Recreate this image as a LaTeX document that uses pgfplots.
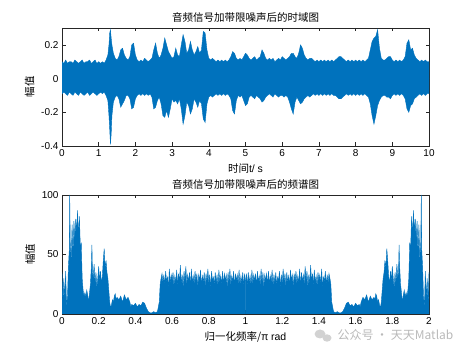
\documentclass[border=0pt]{standalone}
\usepackage{pgfplots}
\pgfplotsset{compat=1.18}
\usepackage{pgfplotstable}
\usepackage{fontspec}
\setmainfont{Liberation Sans}
\newfontfamily\cjk{Noto Sans CJK SC}
\definecolor{mblue}{RGB}{0,114,189}
\definecolor{axgray}{RGB}{38,38,38}

\pgfplotstableread{
t u l
0.00 0.10 -0.09
0.05 0.09 -0.08
0.10 0.11 -0.09
0.15 0.09 -0.10
0.20 0.10 -0.08
0.25 0.10 -0.09
0.30 0.09 -0.10
0.35 0.11 -0.08
0.40 0.10 -0.09
0.45 0.09 -0.10
0.50 0.10 -0.08
0.55 0.11 -0.09
0.60 0.09 -0.10
0.65 0.10 -0.09
0.70 0.10 -0.08
0.75 0.11 -0.10
0.80 0.09 -0.09
0.85 0.10 -0.08
0.90 0.11 -0.09
0.95 0.09 -0.10
1.00 0.10 -0.09
1.05 0.09 -0.08
1.10 0.10 -0.09
1.15 0.09 -0.08
1.20 0.11 -0.10
1.25 0.14 -0.13
1.28 0.20 -0.22
1.30 0.27 -0.30
1.32 0.29 -0.39
1.34 0.24 -0.33
1.36 0.20 -0.22
1.40 0.15 -0.14
1.45 0.12 -0.11
1.50 0.11 -0.10
1.55 0.13 -0.12
1.60 0.17 -0.17
1.65 0.18 -0.15
1.70 0.14 -0.13
1.75 0.12 -0.10
1.80 0.11 -0.10
1.85 0.13 -0.12
1.90 0.20 -0.18
1.95 0.21 -0.17
2.00 0.14 -0.12
2.05 0.11 -0.10
2.10 0.10 -0.09
2.15 0.11 -0.10
2.20 0.10 -0.09
2.25 0.12 -0.10
2.30 0.11 -0.09
2.35 0.10 -0.10
2.40 0.11 -0.09
2.45 0.12 -0.11
2.50 0.17 -0.18
2.55 0.21 -0.17
2.60 0.15 -0.13
2.65 0.12 -0.11
2.70 0.14 -0.15
2.75 0.18 -0.22
2.80 0.24 -0.23
2.85 0.20 -0.19
2.90 0.16 -0.23
2.95 0.14 -0.18
3.00 0.12 -0.12
3.05 0.13 -0.14
3.10 0.18 -0.13
3.15 0.14 -0.15
3.20 0.13 -0.12
3.25 0.20 -0.18
3.30 0.26 -0.27
3.35 0.22 -0.22
3.40 0.15 -0.14
3.45 0.17 -0.16
3.50 0.22 -0.21
3.55 0.17 -0.18
3.60 0.14 -0.12
3.65 0.16 -0.14
3.70 0.19 -0.17
3.75 0.15 -0.13
3.80 0.17 -0.15
3.85 0.28 -0.24
3.90 0.27 -0.26
3.95 0.17 -0.15
4.00 0.12 -0.11
4.05 0.11 -0.10
4.10 0.12 -0.11
4.15 0.11 -0.10
4.20 0.10 -0.09
4.25 0.11 -0.10
4.30 0.10 -0.09
4.35 0.11 -0.10
4.40 0.10 -0.09
4.45 0.11 -0.10
4.50 0.10 -0.09
4.55 0.11 -0.10
4.60 0.13 -0.12
4.65 0.16 -0.19
4.70 0.15 -0.21
4.75 0.12 -0.13
4.80 0.11 -0.10
4.85 0.12 -0.11
4.90 0.11 -0.10
4.95 0.13 -0.13
5.00 0.15 -0.16
5.05 0.14 -0.15
5.10 0.12 -0.11
5.15 0.11 -0.10
5.20 0.12 -0.11
5.25 0.13 -0.12
5.30 0.11 -0.10
5.35 0.12 -0.11
5.40 0.13 -0.12
5.45 0.17 -0.14
5.50 0.15 -0.13
5.55 0.12 -0.11
5.60 0.11 -0.10
5.65 0.12 -0.09
5.70 0.11 -0.10
5.75 0.12 -0.11
5.80 0.10 -0.09
5.85 0.11 -0.10
5.90 0.12 -0.11
5.95 0.11 -0.10
6.00 0.13 -0.10
6.05 0.12 -0.11
6.10 0.11 -0.10
6.15 0.12 -0.11
6.20 0.13 -0.14
6.25 0.15 -0.18
6.30 0.15 -0.21
6.35 0.13 -0.14
6.40 0.12 -0.11
6.45 0.15 -0.13
6.50 0.20 -0.15
6.55 0.18 -0.14
6.60 0.14 -0.12
6.65 0.12 -0.11
6.70 0.11 -0.10
6.75 0.12 -0.11
6.80 0.12 -0.10
6.85 0.11 -0.09
6.90 0.10 -0.10
6.95 0.11 -0.09
7.00 0.10 -0.10
7.05 0.11 -0.09
7.10 0.10 -0.10
7.15 0.11 -0.09
7.20 0.10 -0.10
7.25 0.11 -0.09
7.30 0.10 -0.10
7.35 0.11 -0.09
7.40 0.10 -0.10
7.45 0.11 -0.10
7.50 0.12 -0.11
7.55 0.13 -0.12
7.60 0.13 -0.12
7.65 0.12 -0.11
7.70 0.11 -0.10
7.75 0.10 -0.09
7.80 0.11 -0.10
7.85 0.10 -0.09
7.90 0.11 -0.10
7.95 0.10 -0.09
8.00 0.11 -0.10
8.05 0.10 -0.09
8.10 0.11 -0.10
8.15 0.10 -0.09
8.20 0.11 -0.10
8.25 0.10 -0.09
8.30 0.11 -0.10
8.35 0.12 -0.11
8.40 0.17 -0.15
8.45 0.22 -0.22
8.50 0.24 -0.27
8.55 0.25 -0.22
8.60 0.29 -0.16
8.65 0.18 -0.13
8.70 0.12 -0.11
8.75 0.11 -0.10
8.80 0.11 -0.10
8.85 0.12 -0.11
8.90 0.13 -0.11
8.95 0.13 -0.12
9.00 0.11 -0.10
9.05 0.10 -0.09
9.10 0.11 -0.10
9.15 0.10 -0.09
9.20 0.11 -0.10
9.25 0.10 -0.09
9.30 0.11 -0.10
9.35 0.13 -0.12
9.40 0.21 -0.18
9.45 0.23 -0.20
9.50 0.17 -0.16
9.55 0.18 -0.15
9.60 0.14 -0.12
9.65 0.12 -0.11
9.70 0.11 -0.10
9.75 0.10 -0.09
9.80 0.11 -0.10
9.85 0.10 -0.09
9.90 0.11 -0.10
9.95 0.10 -0.09
10.00 0.10 -0.09
}\sig

\pgfplotstableread{
f a
0.000 35
0.005 8
0.010 30
0.015 12
0.020 36
0.025 5
0.030 15
0.035 40
0.040 55
0.042 100
0.045 60
0.050 45
0.055 75
0.060 50
0.065 78
0.070 62
0.075 80
0.080 70
0.085 87
0.090 65
0.095 82
0.100 55
0.105 60
0.110 30
0.115 20
0.120 15
0.125 18
0.130 14
0.135 20
0.140 16
0.145 10
0.150 18
0.155 25
0.160 40
0.163 58
0.166 35
0.170 30
0.175 42
0.180 25
0.185 35
0.190 22
0.195 30
0.200 40
0.205 28
0.210 36
0.215 25
0.220 32
0.225 45
0.230 55
0.235 38
0.240 45
0.245 35
0.250 30
0.255 20
0.260 10
0.265 5
0.270 8
0.275 12
0.280 10
0.285 15
0.290 17
0.295 12
0.300 14
0.310 12
0.320 15
0.330 10
0.340 16
0.350 12
0.360 14
0.370 10
0.375 6
0.380 8
0.390 7
0.400 9
0.410 6
0.420 8
0.430 7
0.440 10
0.450 9
0.460 5
0.470 2
0.480 1
0.490 1
0.500 2
0.510 1
0.520 2
0.530 10
0.535 25
0.540 30
0.545 34
0.550 26
0.555 33
0.560 24
0.565 36
0.570 27
0.575 31
0.580 22
0.585 38
0.590 25
0.595 33
0.600 28
0.605 35
0.610 23
0.615 32
0.620 26
0.625 37
0.630 24
0.635 34
0.640 27
0.645 41
0.650 25
0.655 33
0.660 22
0.665 36
0.670 28
0.675 40
0.680 24
0.685 33
0.690 27
0.695 35
0.700 23
0.705 38
0.710 26
0.715 32
0.720 25
0.725 36
0.730 27
0.735 34
0.740 22
0.745 33
0.750 28
0.755 37
0.760 24
0.765 32
0.770 26
0.775 35
0.780 23
0.785 34
0.790 27
0.795 38
0.800 25
0.805 33
0.810 22
0.815 36
0.820 28
0.825 31
0.830 24
0.835 35
0.840 26
0.845 33
0.850 23
0.855 37
0.860 27
0.865 32
0.870 25
0.875 36
0.880 24
0.885 34
0.890 28
0.895 33
0.900 22
0.905 35
0.910 26
0.915 38
0.920 24
0.925 32
0.930 27
0.935 36
0.940 23
0.945 34
0.950 28
0.955 33
0.960 25
0.965 37
0.970 24
0.975 32
0.980 26
0.985 35
0.990 23
0.995 34
1.000 27
}\spec

\begin{document}
\begin{tikzpicture}
\useasboundingbox (0pt,0pt) rectangle (474pt,355pt);
\pgfplotsset{
 mstyle/.style={
  scale only axis, width=367pt, height=118pt,
  axis line style={axgray, line width=0.5pt},
  every tick/.style={axgray, line width=0.5pt},
  major tick length=3.5pt,
  tick align=inside,
  tick label style={font=\fontsize{10}{12}\selectfont, text=black},
  title style={font=\cjk\fontsize{10.5}{12}\selectfont, yshift=-4pt},
  label style={font=\fontsize{10.5}{12}\selectfont},
 }
}
\begin{axis}[mstyle, at={(62pt,209pt)}, anchor=south west,
 xmin=0, xmax=10, ymin=-0.4, ymax=0.3,
 xtick={0,1,2,3,4,5,6,7,8,9,10}, xticklabels={0,1,2,3,4,5,6,7,8,9,10},
 ytick={-0.4,-0.2,0,0.2}, yticklabels={-0.4,-0.2,0,0.2},
 title={音频信号加带限噪声后的时域图},
 xlabel={{\cjk 时间}t/ s}, ylabel={\cjk 幅值}]
\addplot[mblue, fill=mblue, line width=0.4pt] table[x=t,y=u]{\sig} \closedcycle;
\addplot[mblue, fill=mblue, line width=0.4pt] table[x=t,y=l]{\sig} \closedcycle;
\addplot[mblue, line width=2pt] coordinates {(0,0) (10,0)};
\end{axis}
\begin{axis}[mstyle, at={(62pt,41pt)}, anchor=south west, height=119pt,
 xmin=0, xmax=2, ymin=0, ymax=100,
 xtick={0,0.2,0.4,0.6,0.8,1,1.2,1.4,1.6,1.8,2},
 xticklabels={0,0.2,0.4,0.6,0.8,1,1.2,1.4,1.6,1.8,2},
 ytick={0,50,100}, yticklabels={0,50,100},
 title={音频信号加带限噪声后的频谱图},
 xlabel={{\cjk 归一化频率/π} rad}, ylabel={\cjk 幅值}]
\addplot[mblue, fill=mblue, line width=0.4pt] table[x=f,y=a]{\spec} \closedcycle;
\addplot[mblue, fill=mblue, line width=0.4pt] table[x expr=2-\thisrow{f},y=a]{\spec} \closedcycle;
\end{axis}
\fill[gray!35] (320pt,21pt) ellipse (5.5pt and 4.5pt);
\fill[gray!35] (327pt,17pt) ellipse (4.5pt and 3.7pt);
\node[text=gray!55, font=\cjk\fontsize{12}{14}\selectfont, anchor=west] at (334pt,20pt) {公众号 · 天天Matlab};
\end{tikzpicture}
\end{document}
